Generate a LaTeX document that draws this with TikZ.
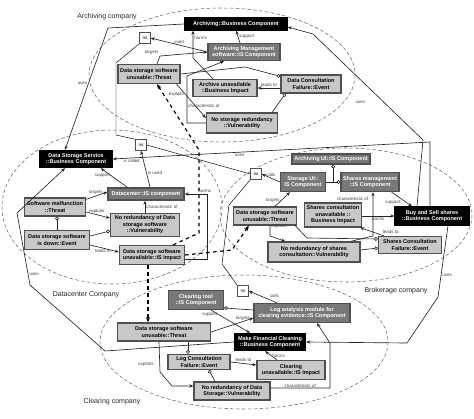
\documentclass[tikz,border=0pt]{standalone}
\usepackage{fontspec}
\setmainfont{Liberation Sans}
\usetikzlibrary{arrows.meta, calc}
\definecolor{boxgray}{RGB}{200,200,200}
\definecolor{compgray}{RGB}{120,120,120}
\definecolor{edgegray}{RGB}{80,80,80}

\begin{document}
\begin{tikzpicture}[x=0.03cm, y=-0.03cm,
  sz/.style 2 args={minimum width=#1*0.03cm, minimum height=#2*0.03cm},
  base/.style={draw=edgegray, line width=1.1pt, align=center, inner sep=0.5pt,
               font=\fontsize{4.7}{5.5}\selectfont\bfseries},
  bizcomp/.style={base, draw=black, fill=black, text=white},
  iscomp/.style={base, fill=compgray, text=white},
  concept/.style={base, fill=boxgray},
  intf/.style={draw=edgegray, fill=white, line width=0.6pt, inner sep=0pt,
               minimum size=0.32cm, font=\fontsize{3.6}{4}\selectfont},
  lbl/.style={font=\fontsize{3.8}{4.4}\selectfont, text=black!75, inner sep=1pt},
  company/.style={font=\fontsize{6}{7}\selectfont, text=black!85},
  zone/.style={draw=black!60, densely dashed, line width=0.45pt},
  arr/.style={-{Stealth[length=3.5pt,width=2.8pt]}, line width=0.55pt, draw=black!85},
  agg/.style={-{Circle[open,length=3.2pt,width=3.2pt,fill=white]}, line width=0.55pt, draw=black!85},
  dep/.style={-{Stealth[length=4.5pt,width=3.6pt]}, dashed, line width=1pt}
]
\useasboundingbox (0,0) rectangle (474,419);

% company zones
\draw[zone] (222,75) ellipse [x radius=133, y radius=67];
\draw[zone] (112,207) ellipse [x radius=110, y radius=77];
\draw[zone] (346,215) ellipse [x radius=126, y radius=67];
\draw[zone] (244,342) ellipse [x radius=144, y radius=67];

\node[company] (archname) at (107,17) {Archiving company};
\node[company] (dcname) at (86,295) {Datacenter Company};
\node[company] (brokname) at (396,291) {Brokerage company};
\node[company] (clearname) at (112,402) {Clearing company};

% Archiving company
\node[bizcomp, sz={102}{12}] (abc) at (236,24) {Archiving::Business Component};
\node[intf] (aint) at (145,38) {Int};
\node[iscomp, sz={72}{17}] (aam) at (244,52) {Archiving Management\\software::IS Component};
\node[concept, sz={62}{19}] (athr) at (149,74) {Data storage software\\unusable::Threat};
\node[concept, sz={64}{17}] (aimp) at (225,88) {Archive unavailable\\::Business Impact};
\node[concept, sz={60}{18}] (aev) at (311,84) {Data Consultation\\Failure::Event};
\node[concept, sz={71}{20}] (avul) at (242,123) {No storage redundancy\\::Vulnerability};

% Datacenter company
\node[bizcomp, sz={72}{17}] (dbc) at (76,159) {Data Storage Service\\::Business Component};
\node[intf] (dint) at (141,145) {Int};
\node[iscomp, sz={76}{12}] (dis) at (146,194) {Datacenter::IS component};
\node[concept, sz={61}{18}] (dthr) at (55,207) {Software malfunction\\::Threat};
\node[concept, sz={69}{23}] (dvul) at (145,225) {No redundancy of Data\\storage software\\::Vulnerability};
\node[concept, sz={65}{19}] (dev) at (57,240) {Data storage software\\is down::Event};
\node[concept, sz={65}{19}] (dimp) at (152,255) {Data storage software\\unavailable::IS impact};

% Brokerage company
\node[iscomp, sz={78}{10}] (bau) at (331,159) {Archiving UI::IS Component};
\node[intf] (bint) at (256,174) {Int};
\node[iscomp, sz={45}{19}] (bsu) at (303,182) {Storage UI::\\IS Component};
\node[iscomp, sz={58}{19}] (bsm) at (370,182) {Shares management\\::IS Component};
\node[concept, sz={63}{18}] (bthr) at (265,216) {Data storage software\\unusable::Threat};
\node[concept, sz={57}{24}] (bimp) at (333,215) {Shares consultation\\unavailable ::\\Business Impact};
\node[bizcomp, sz={74}{18}] (bbc) at (432,216) {Buy and Sell shares\\::Business Component};
\node[concept, sz={63}{17}] (bev) at (410,245) {Shares Consultation\\Failure::Event};
\node[concept, sz={92}{20}] (bvul) at (314,252) {No redundancy of shares\\consultation::Vulnerability};

% Clearing company
\node[intf] (cint) at (243,291) {Int};
\node[iscomp, sz={55}{19}] (ctool) at (196,300) {Clearing tool\\::IS Component};
\node[iscomp, sz={96}{19}] (clog) at (302,313) {Log analysis module for\\clearing evidence::IS Component};
\node[concept, sz={93}{18}] (cthr) at (164,332) {Data storage software\\unusable::Threat};
\node[bizcomp, sz={71}{17}] (cbc) at (270,342) {Make Financial Cleaning\\::Business Component};
\node[concept, sz={62}{15}] (cev) at (199,362) {Log Consultation\\Failure::Event};
\node[concept, sz={68}{19}] (cimp) at (291,370) {Clearing\\unavailable::IS Impact};
\node[concept, sz={76}{18}] (cvul) at (232,391) {No redundancy of Data\\Storage::Vulnerability};

% archiving links
\draw[arr] (aam.west) -- node[lbl, above] {used} (aint.east);
\draw[arr] ($(aam.north)+(-4,0)$) -- node[lbl, right] {support} (abc.south);
\draw[arr] ($(aimp.north)+(-12,0)$) -- (193,58) -- node[lbl, right, pos=0.75] {harms} (abc.south -| 193,0);
\draw[arr] ($(athr.north)+(8,0)$) -- node[lbl, above left, pos=1] {targets} (160,56) -- (aam.west);
\draw[agg] (athr.east) -- (245,67) -- ($(aev.north west)+(0,2)$);
\draw[agg] ($(avul.north east)+(-6,0)$) -- ($(aev.south west)+(5,0)$);
\draw[arr] (aev.west |- aimp.east) -- node[lbl, above] {leads to} (aimp.east);
\draw[arr] (avul.west) -- (187,123) -- node[lbl, above right, pos=0.3] {characteristic of} (187,76) -- ($(aam.south)+(-20,0)$);
\draw[arr] ($(athr.south east)+(-4,0)$) -- node[lbl, left, pos=0.3] {exploits} ($(avul.west)+(0,-5)$);

% datacenter links
\draw[arr] ($(dis.north west)+(20,0)$) -- node[lbl, left, pos=0.6] {support} ($(dbc.south east)+(-12,0)$);
\draw[arr] ($(dis.north)+(4,0)$) -- node[lbl, right, pos=0.4] {is used} (dint.south);
\draw[arr] ($(dthr.north east)+(0,2)$) -- node[lbl, above, pos=0.45] {targets} ($(dis.west)+(0,-2)$);
\draw[arr] ($(dthr.east)+(0,5)$) -- node[lbl, above, pos=0.45] {exploits} ($(dvul.west)+(0,-7)$);
\draw[agg] (dev.north) -- (dev.north |- dthr.south);
\draw[agg] ($(dev.east)+(0,-4)$) -- ($(dvul.west)+(0,6)$);
\draw[arr] ($(dev.east)+(0,5)$) -- node[lbl, below, pos=0.45] {leads to} ($(dimp.west)+(0,-3)$);
\draw[arr] (dvul.north) -- node[lbl, right] {characteristic of} (dvul.north |- dis.south);
\draw[arr] ($(dimp.east)+(0,4)$) -- (207,259) -- (207,194) -- node[lbl, above, pos=0.1] {harms} (dis.east);

% links between companies
\draw[arr] (abc.west) -- (108,28) -- node[lbl, left, pos=0.45] {uses} ($(dbc.north)+(-11,0)$);
\draw (aint.south west) -- (116,63) -- (116,135) -- (dint.north west);
\draw (dint.east) -- (bint.west);
\draw (bint.south west) -- (229,205) -- (222,264) -- (cint.north west);
\draw[arr] ($(bbc.north)+(-2,0)$) -- (430,142) -- node[lbl, below, pos=0.6] {uses}
  node[lbl, below, pos=0.94] {is called} (dbc.east);
\draw[arr] ($(bbc.north)+(-15,0)$) -- (423,140) -- node[lbl, below left=6pt, pos=0.45] {uses} (313,34) -- ($(abc.east)+(0,3)$);
\draw[arr] ($(bbc.south)+(16,0)$) -- node[lbl, right, pos=0.7] {uses} (438,297) -- (407,343) -- (cbc.east);
\draw[arr] (cbc.west) -- (105,351) -- (30,285) -- node[lbl, right, pos=0.15] {uses} (17,213) -- ($(dbc.south)+(-11,0)$);

% dependencies on the datacenter impact
\draw[dep] ($(dimp.north east)+(-12,0)$) -- (199,233) -- (199,150) -- ($(athr.south)+(8,0)$);
\draw[dep] (dimp.east) -- (232,250) -- ($(bthr.south west)+(16,0)$);
\draw[dep] (dimp.south -| 148,0) -- (cthr.north -| 148,0);

% brokerage links
\coordinate (bjoin) at ($(bsu.east)!0.5!(bsm.west)$);
\draw[arr] (bsu.west) -- node[lbl, above] {calls} (bint.east);
\draw[agg] (bsu.east) -- (bsm.west);
\draw[agg] (bjoin) -- (bjoin |- bau.south);
\draw[arr] ($(bsm.south east)+(-8,0)$) -- node[lbl, below left, pos=0.5] {support} ($(bbc.north)+(-20,0)$);
\draw[arr] ($(bthr.north)+(10,0)$) -- node[lbl, left, pos=0.4] {targets} ($(bsu.south)+(-13,0)$);
\draw[arr] (bimp.east |- bbc.west) -- node[lbl, below] {harms} (bbc.west);
\draw[arr] ($(bvul.north east)+(-10,0)$) -- (373,236) -- node[lbl, left=3pt, pos=0.85] {characteristic of} (bsm.south -| 373,0);
\draw[arr] ($(bev.north west)+(6,0)$) -- node[lbl, above right, pos=0.1] {leads to} ($(bimp.south east)+(-2,0)$);
\draw[agg] ($(bthr.south east)+(-2,0)$) -- (307,238) -- ($(bev.west)+(0,-6)$);
\draw[agg] ($(bvul.east)+(0,-2)$) -- ($(bev.west)+(0,3)$);
\draw[arr] ($(bthr.south)+(5,0)$) -- node[lbl, right, pos=0.1] {exploits} (270,236) -- ($(bvul.north west)+(18,0)$);

% clearing links
\draw[arr] ($(clog.north)+(-25,0)$) -- node[lbl, above right, pos=0.3] {calls} (cint.east);
\draw[agg] ($(clog.west)+(0,-3)$) -- ($(ctool.east)+(0,8)$);
\draw[arr] ($(ctool.south)+(15,0)$) -- node[lbl, left, pos=0.2] {support} ($(cbc.north)+(-20,0)$);
\draw[arr] (cthr.east) -- node[lbl, above, pos=0.75] {targets} ($(clog.west)+(0,5)$);
\draw[arr] ($(cimp.north)+(-14,0)$) -- node[lbl, right] {harms} ($(cbc.south)+(-5,0)$);
\draw[arr] (cev.east) -- node[lbl, above] {leads to} ($(cimp.west)+(0,-5)$);
\draw[agg] (cthr.south -| 188,0) -- (cev.north -| 188,0);
\draw[agg] ($(cvul.north)+(-17,0)$) -- ($(cev.south)+(10,0)$);
\draw[arr] ($(cthr.south)+(-5,0)$) -- node[lbl, left=4pt, pos=0.75] {exploits} (160,372) -- (172,386) -- ($(cvul.west)+(0,-5)$);
\draw[arr] ($(cvul.east)+(0,-3)$) -- node[lbl, above=-1pt, pos=0.5] {characteristic of} (330,388) -- (330,343) -- ($(clog.south)+(15,0)$);
\end{tikzpicture}
\end{document}
